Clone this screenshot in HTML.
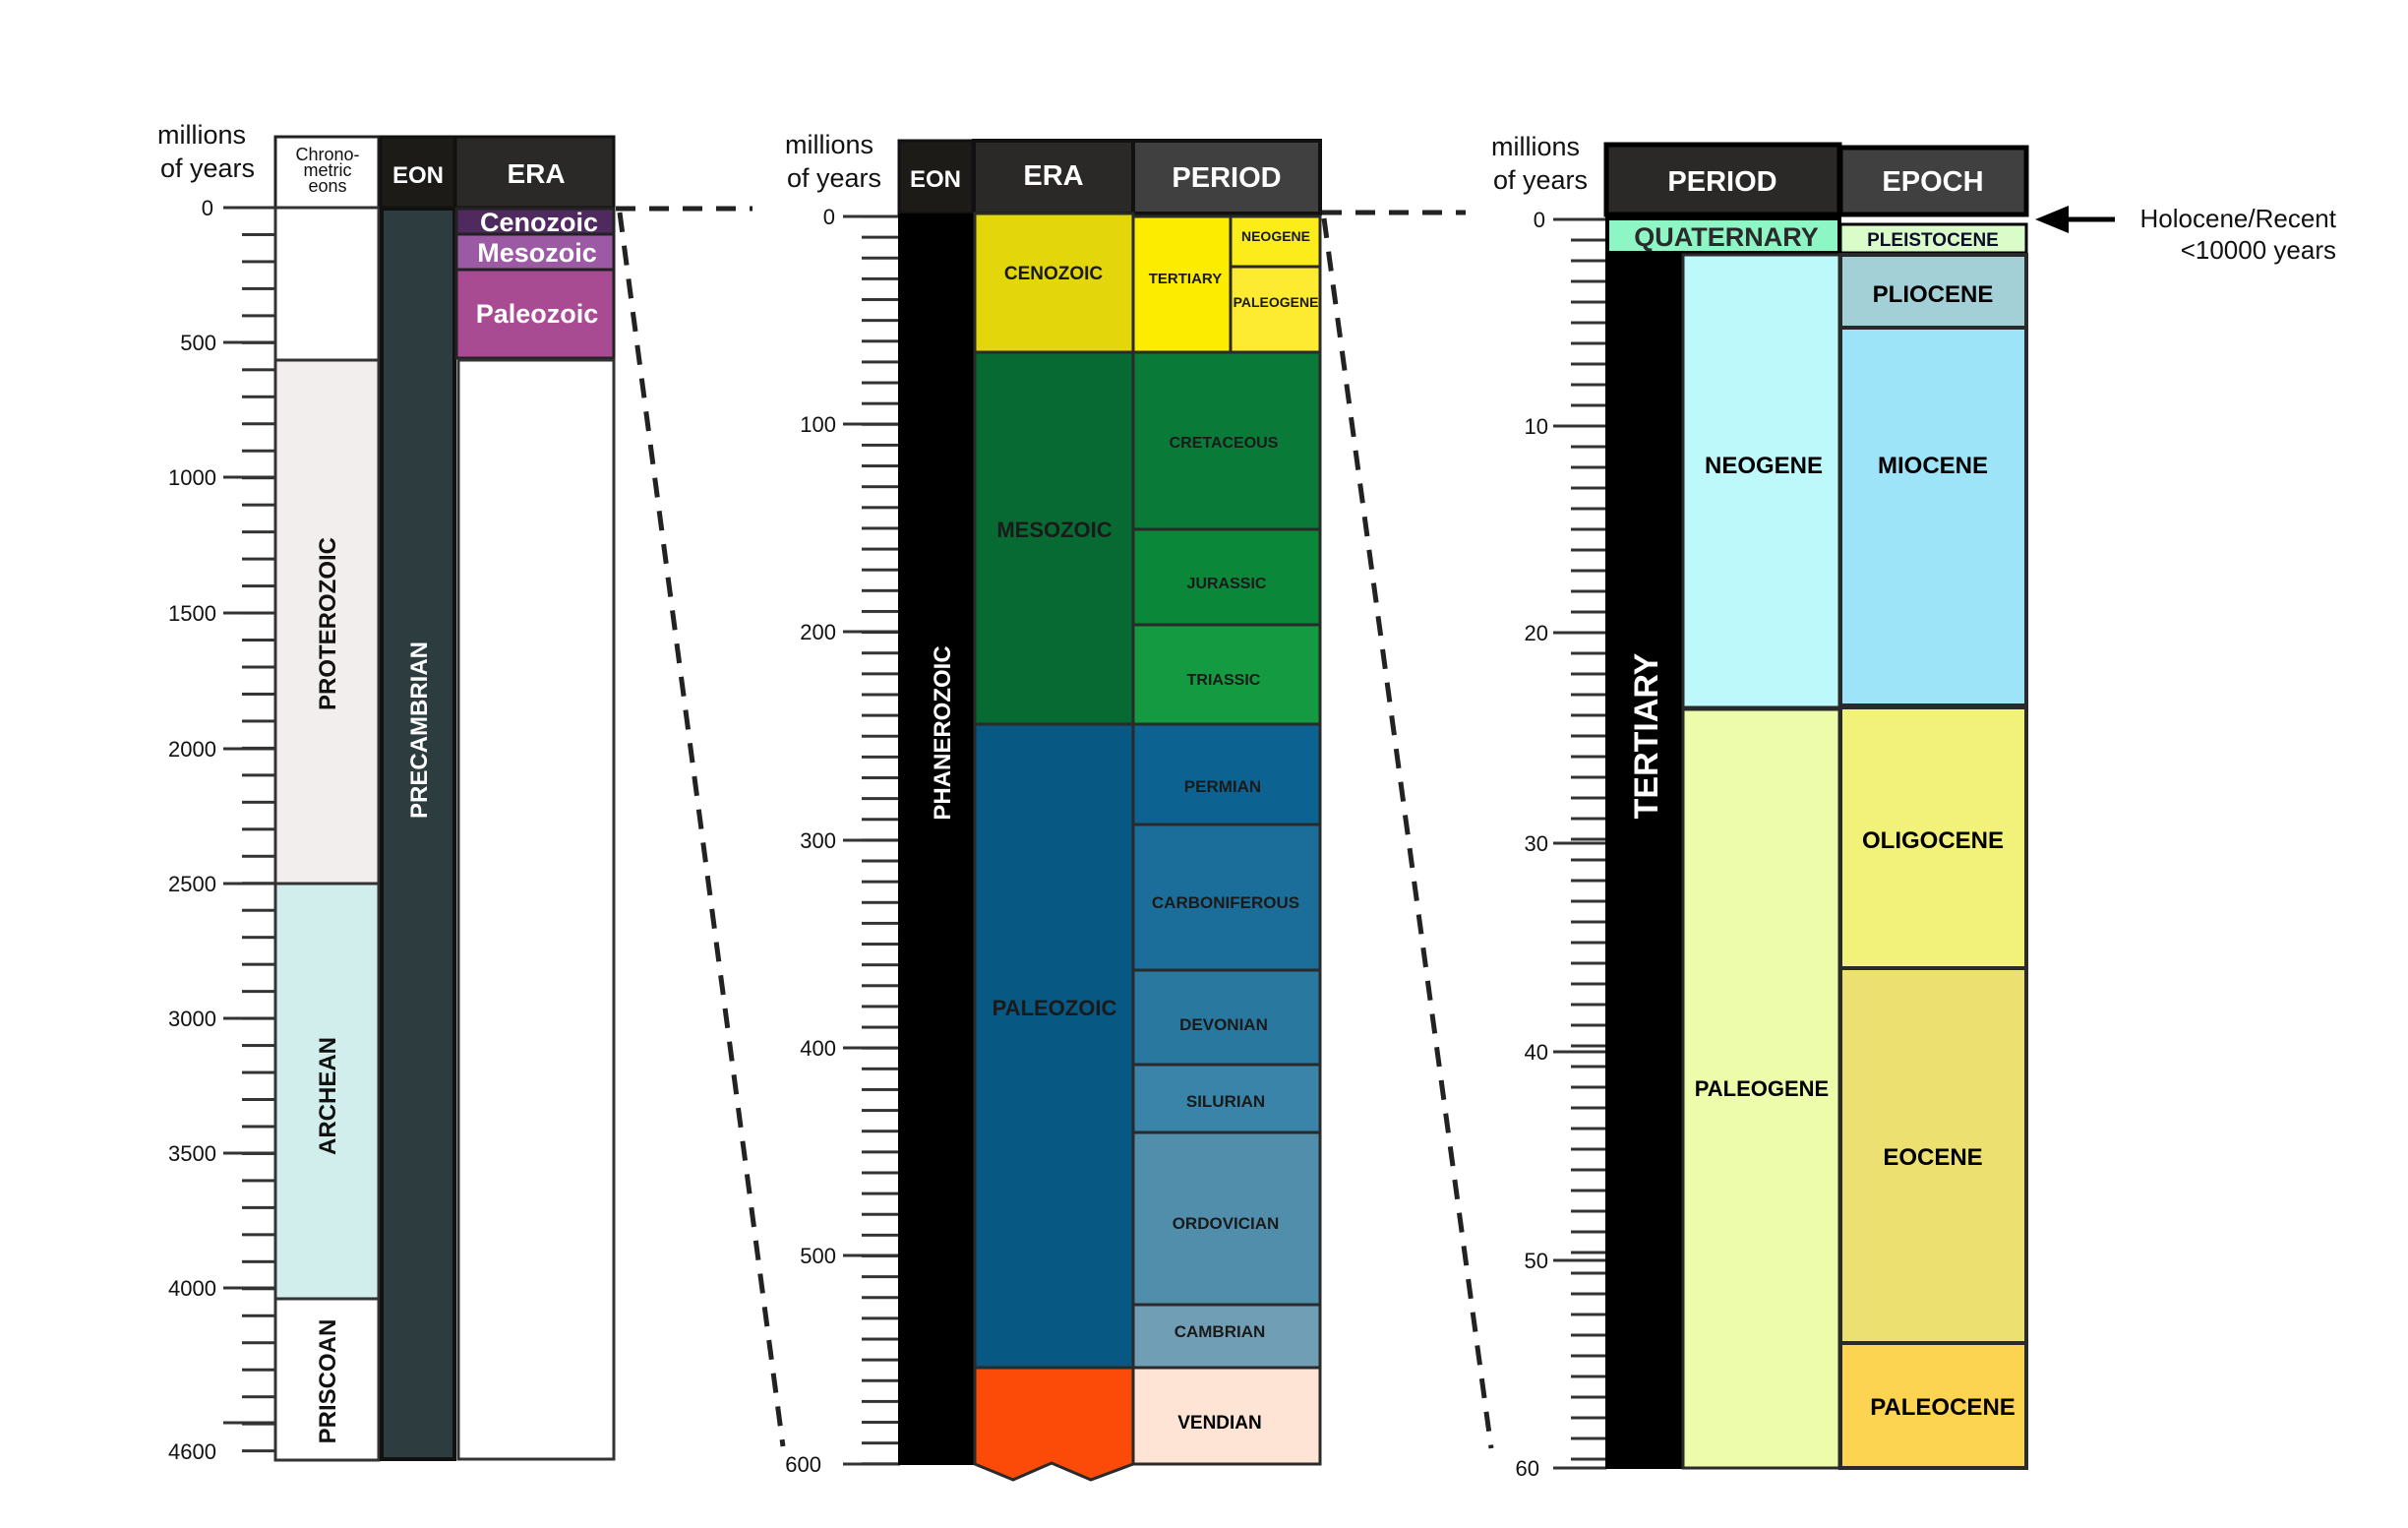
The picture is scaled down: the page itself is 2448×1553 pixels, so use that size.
<!DOCTYPE html>
<html><head><meta charset="utf-8"><style>
html,body{margin:0;padding:0;background:#fff;}
svg{display:block;}
text{font-family:"Liberation Sans",Arial,sans-serif;}
.b{font-weight:bold;}
</style></head><body>
<svg width="2448" height="1553" viewBox="0 0 2448 1553" xmlns="http://www.w3.org/2000/svg">
<defs>
<pattern id="pL" patternUnits="userSpaceOnUse" x="0" y="209.5" width="40" height="27.47"><rect x="0" y="0" width="40" height="3" fill="#333"/></pattern>
<pattern id="pM" patternUnits="userSpaceOnUse" x="0" y="218.5" width="40" height="21.13"><rect x="0" y="0" width="40" height="3" fill="#333"/></pattern>
<pattern id="pR" patternUnits="userSpaceOnUse" x="0" y="221.5" width="40" height="21.0"><rect x="0" y="0" width="40" height="3" fill="#333"/></pattern>
</defs>

<!-- ============ LEFT CHART ============ -->
<text x="160" y="146" font-size="27" fill="#111">millions</text>
<text x="163" y="180" font-size="27" fill="#111">of years</text>
<rect x="246" y="209" width="34" height="1274" fill="url(#pL)"/>
<g stroke="#333" stroke-width="3">
<line x1="227" y1="211" x2="280" y2="211"/>
<line x1="227" y1="348" x2="280" y2="348"/>
<line x1="227" y1="485" x2="280" y2="485"/>
<line x1="227" y1="623" x2="280" y2="623"/>
<line x1="227" y1="761" x2="280" y2="761"/>
<line x1="227" y1="898" x2="280" y2="898"/>
<line x1="227" y1="1035" x2="280" y2="1035"/>
<line x1="227" y1="1172" x2="280" y2="1172"/>
<line x1="227" y1="1309" x2="280" y2="1309"/>
<line x1="227" y1="1446" x2="280" y2="1446"/>
</g>
<g font-size="22" fill="#111" text-anchor="end">
<text x="217" y="219">0</text>
<text x="220" y="356">500</text>
<text x="220" y="493">1000</text>
<text x="220" y="631">1500</text>
<text x="220" y="769">2000</text>
<text x="220" y="906">2500</text>
<text x="220" y="1043">3000</text>
<text x="220" y="1180">3500</text>
<text x="220" y="1317">4000</text>
<text x="220" y="1483">4600</text>
</g>
<!-- chrono -->
<rect x="280" y="139" width="105" height="72" fill="#fff" stroke="#222" stroke-width="3"/>
<text x="333" y="163" font-size="18" text-anchor="middle" fill="#111">Chrono-</text>
<text x="333" y="179" font-size="18" text-anchor="middle" fill="#111">metric</text>
<text x="333" y="195" font-size="18" text-anchor="middle" fill="#111">eons</text>
<rect x="280" y="211" width="105" height="155" fill="#fff" stroke="#333" stroke-width="3"/>
<rect x="280" y="366" width="105" height="532" fill="#f2eeed" stroke="#333" stroke-width="3"/>
<rect x="280" y="898" width="105" height="422" fill="#d1eeed" stroke="#333" stroke-width="3"/>
<rect x="280" y="1320" width="105" height="164" fill="#fff" stroke="#333" stroke-width="3"/>
<text transform="translate(341,634) rotate(-90)" font-size="24" class="b" text-anchor="middle" fill="#111">PROTEROZOIC</text>
<text transform="translate(341,1114) rotate(-90)" font-size="24" class="b" text-anchor="middle" fill="#111">ARCHEAN</text>
<text transform="translate(341,1404) rotate(-90)" font-size="24" class="b" text-anchor="middle" fill="#111">PRISCOAN</text>
<!-- eon -->
<rect x="387" y="139" width="75" height="72" fill="#1c1b18" stroke="#111" stroke-width="3"/>
<text x="425" y="186" font-size="24" class="b" fill="#fff" text-anchor="middle">EON</text>
<rect x="388" y="212" width="74" height="1271" fill="#2c3c3f" stroke="#111" stroke-width="4"/>
<text transform="translate(434,742) rotate(-90)" font-size="24" class="b" text-anchor="middle" fill="#fff">PRECAMBRIAN</text>
<!-- era -->
<rect x="463" y="139" width="161" height="72" fill="#2a2928" stroke="#111" stroke-width="3"/>
<text x="545" y="186" font-size="28" class="b" fill="#fff" text-anchor="middle">ERA</text>
<rect x="464" y="212" width="160" height="26" fill="#4e2a5e" stroke="#222" stroke-width="3"/>
<rect x="464" y="238" width="160" height="36" fill="#9b5aa3" stroke="#222" stroke-width="3"/>
<rect x="464" y="274" width="160" height="90" fill="#a84b93" stroke="#222" stroke-width="3"/>
<rect x="466" y="366" width="158" height="1117" fill="#fff" stroke="#333" stroke-width="3"/>
<text x="548" y="235" font-size="27" class="b" fill="#fff" text-anchor="middle">Cenozoic</text>
<text x="546" y="266" font-size="27" class="b" fill="#fff" text-anchor="middle">Mesozoic</text>
<text x="546" y="328" font-size="27" class="b" fill="#fff" text-anchor="middle">Paleozoic</text>
<!-- dashes -->
<g stroke="#222" stroke-width="5" stroke-dasharray="20,14" fill="none">
<line x1="626" y1="212" x2="765" y2="212"/>
<line x1="630" y1="216" x2="796" y2="1470"/>
</g>

<!-- ============ MIDDLE CHART ============ -->
<text x="798" y="156" font-size="27" fill="#111">millions</text>
<text x="800" y="190" font-size="27" fill="#111">of years</text>
<rect x="876" y="218" width="39" height="1271" fill="url(#pM)"/>
<g stroke="#333" stroke-width="3">
<line x1="857" y1="220" x2="915" y2="220"/>
<line x1="857" y1="431" x2="915" y2="431"/>
<line x1="857" y1="642" x2="915" y2="642"/>
<line x1="857" y1="854" x2="915" y2="854"/>
<line x1="857" y1="1065" x2="915" y2="1065"/>
<line x1="857" y1="1276" x2="915" y2="1276"/>
<line x1="857" y1="1488" x2="915" y2="1488"/>
</g>
<g font-size="22" fill="#111" text-anchor="end">
<text x="849" y="228">0</text>
<text x="850" y="439">100</text>
<text x="850" y="650">200</text>
<text x="850" y="862">300</text>
<text x="850" y="1073">400</text>
<text x="850" y="1284">500</text>
<text x="835" y="1496">600</text>
</g>
<rect x="914" y="143" width="75" height="74" fill="#1c1b18" stroke="#111" stroke-width="3"/>
<text x="951" y="190" font-size="24" class="b" fill="#fff" text-anchor="middle">EON</text>
<rect x="990" y="143" width="162" height="74" fill="#2a2928" stroke="#111" stroke-width="4"/>
<text x="1071" y="188" font-size="29" class="b" fill="#fff" text-anchor="middle">ERA</text>
<rect x="1152" y="143" width="190" height="74" fill="#414040" stroke="#111" stroke-width="4"/>
<text x="1247" y="190" font-size="29" class="b" fill="#fff" text-anchor="middle">PERIOD</text>
<rect x="913" y="217" width="77" height="1272" fill="#000"/>
<text transform="translate(966,745) rotate(-90)" font-size="24" class="b" text-anchor="middle" fill="#fff">PHANEROZOIC</text>
<g stroke="#2a2a2a" stroke-width="3">
<rect x="991" y="217" width="161" height="141" fill="#e3d70c"/>
<rect x="991" y="358" width="161" height="378" fill="#086a33"/>
<rect x="991" y="736" width="161" height="654" fill="#075882"/>
<polygon points="991,1390 1152,1390 1152,1488 1109,1504 1069,1487 1030,1504 991,1488" fill="#fc4b08"/>
<rect x="1152" y="220" width="99" height="138" fill="#fcec00"/>
<rect x="1251" y="220" width="91" height="51" fill="#fced1a"/>
<rect x="1251" y="271" width="91" height="87" fill="#fdeb31"/>
<rect x="1152" y="358" width="190" height="180" fill="#097a38"/>
<rect x="1152" y="538" width="190" height="97" fill="#0b873a"/>
<rect x="1152" y="635" width="190" height="101" fill="#149a40"/>
<rect x="1152" y="736" width="190" height="102" fill="#0c6391"/>
<rect x="1152" y="838" width="190" height="148" fill="#1c6e9a"/>
<rect x="1152" y="986" width="190" height="96" fill="#2878a0"/>
<rect x="1152" y="1082" width="190" height="69" fill="#3a84aa"/>
<rect x="1152" y="1151" width="190" height="175" fill="#518eab"/>
<rect x="1152" y="1326" width="190" height="64" fill="#709fb5"/>
<rect x="1152" y="1390" width="190" height="98" fill="#fee4d5"/>
</g>
<g class="b" fill="#1a1a1a" text-anchor="middle">
<text x="1071" y="284" font-size="19">CENOZOIC</text>
<text x="1205" y="288" font-size="15">TERTIARY</text>
<text x="1297" y="245" font-size="14">NEOGENE</text>
<text x="1297" y="312" font-size="14">PALEOGENE</text>
<text x="1072" y="546" font-size="22">MESOZOIC</text>
<text x="1244" y="455" font-size="16">CRETACEOUS</text>
<text x="1247" y="598" font-size="16">JURASSIC</text>
<text x="1244" y="696" font-size="16">TRIASSIC</text>
<text x="1243" y="805" font-size="17">PERMIAN</text>
<text x="1246" y="923" font-size="17">CARBONIFEROUS</text>
<text x="1244" y="1047" font-size="17">DEVONIAN</text>
<text x="1246" y="1125" font-size="17">SILURIAN</text>
<text x="1246" y="1249" font-size="17">ORDOVICIAN</text>
<text x="1240" y="1359" font-size="17">CAMBRIAN</text>
<text x="1240" y="1452" font-size="19" fill="#000">VENDIAN</text>
<text x="1072" y="1032" font-size="22">PALEOZOIC</text>
</g>
<g stroke="#222" stroke-width="5" stroke-dasharray="20,14" fill="none">
<line x1="1344" y1="216" x2="1490" y2="216"/>
<line x1="1346" y1="222" x2="1516" y2="1472"/>
</g>

<!-- ============ RIGHT CHART ============ -->
<text x="1516" y="158" font-size="27" fill="#111">millions</text>
<text x="1518" y="192" font-size="27" fill="#111">of years</text>
<rect x="1597" y="221" width="36" height="1272" fill="url(#pR)"/>
<g stroke="#333" stroke-width="3">
<line x1="1579" y1="223" x2="1633" y2="223"/>
<line x1="1579" y1="433" x2="1633" y2="433"/>
<line x1="1579" y1="643" x2="1633" y2="643"/>
<line x1="1579" y1="857" x2="1633" y2="857"/>
<line x1="1579" y1="1069" x2="1633" y2="1069"/>
<line x1="1579" y1="1281" x2="1633" y2="1281"/>
<line x1="1579" y1="1492" x2="1633" y2="1492"/>
</g>
<g font-size="22" fill="#111" text-anchor="end">
<text x="1571" y="231">0</text>
<text x="1574" y="441">10</text>
<text x="1574" y="651">20</text>
<text x="1574" y="865">30</text>
<text x="1574" y="1077">40</text>
<text x="1574" y="1289">50</text>
<text x="1565" y="1500">60</text>
</g>
<rect x="1633" y="147" width="237" height="71" fill="#2a2928" stroke="#000" stroke-width="5"/>
<text x="1751" y="194" font-size="29" class="b" fill="#fff" text-anchor="middle">PERIOD</text>
<rect x="1871" y="150" width="189" height="68" fill="#414040" stroke="#000" stroke-width="5"/>
<text x="1965" y="194" font-size="29" class="b" fill="#fff" text-anchor="middle">EPOCH</text>
<rect x="1634" y="222" width="236" height="35" fill="#8ef5c5" stroke="#000" stroke-width="4"/>
<text x="1755" y="250" font-size="27" class="b" fill="#2a2a2a" text-anchor="middle">QUATERNARY</text>
<rect x="1871" y="228" width="189" height="29" fill="#d9fcc8" stroke="#000" stroke-width="3"/>
<text x="1965" y="250" font-size="19" class="b" fill="#0c0c2c" text-anchor="middle">PLEISTOCENE</text>
<rect x="1632" y="259" width="79" height="1234" fill="#000"/>
<text transform="translate(1685,748) rotate(-90)" font-size="34" class="b" text-anchor="middle" fill="#fff">TERTIARY</text>
<g stroke="#2a2a2a" stroke-width="3">
<rect x="1711" y="259" width="159" height="460" fill="#bdf8fb"/>
<rect x="1711" y="721" width="159" height="771" fill="#edfcab"/>
</g>
<g stroke="#2a2a2a" stroke-width="4">
<rect x="1871" y="259" width="189" height="74" fill="#a3d0d6"/>
<rect x="1871" y="333" width="189" height="384" fill="#9de4f8"/>
<rect x="1871" y="719" width="189" height="265" fill="#f2f27a"/>
<rect x="1871" y="984" width="189" height="381" fill="#ebe070"/>
<rect x="1871" y="1365" width="189" height="127" fill="#fdd452"/>
</g>
<g class="b" fill="#000" text-anchor="middle" font-size="24">
<text x="1965" y="307">PLIOCENE</text>
<text x="1793" y="481">NEOGENE</text>
<text x="1965" y="481">MIOCENE</text>
<text x="1791" y="1114" font-size="22">PALEOGENE</text>
<text x="1965" y="862">OLIGOCENE</text>
<text x="1965" y="1184">EOCENE</text>
<text x="1975" y="1438">PALEOCENE</text>
</g>
<!-- arrow -->
<line x1="2098" y1="223" x2="2150" y2="223" stroke="#000" stroke-width="5"/>
<polygon points="2069,223 2103,209 2103,237" fill="#000"/>
<text x="2375" y="231" font-size="26" fill="#111" text-anchor="end">Holocene/Recent</text>
<text x="2375" y="263" font-size="26" fill="#111" text-anchor="end">&lt;10000 years</text>
</svg>
</body></html>
